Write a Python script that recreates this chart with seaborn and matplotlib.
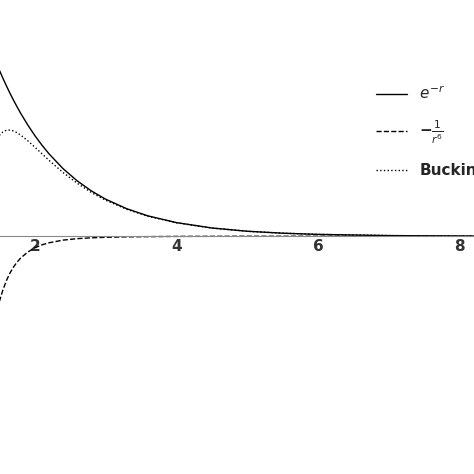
import numpy as np
import pandas as pd
import seaborn as sns
import matplotlib
matplotlib.use("Agg")
import matplotlib.pyplot as plt

# values
r = [1.5, 1.55, 1.6, 1.65, 1.7, 1.75, 1.8, 1.9, 2.0, 2.1, 2.2, 2.4, 2.6, 2.8, 3.0,
     3.3, 3.6, 4.0, 4.5, 5.0, 5.5, 6.0, 7.0, 8.0, 8.3]
exp_term = [0.2231, 0.2122, 0.2019, 0.1920, 0.1827, 0.1738, 0.1653, 0.1496, 0.1353,
            0.1225, 0.1108, 0.0907, 0.0743, 0.0608, 0.0498, 0.0369, 0.0273, 0.0183,
            0.0111, 0.0067, 0.0041, 0.0025, 0.0009, 0.0003, 0.0002]
disp_term = [-0.0878, -0.0723, -0.0596, -0.0495, -0.0414, -0.0348, -0.0294, -0.0213,
             -0.0156, -0.0116, -0.0088, -0.0052, -0.0032, -0.0021, -0.0014, -0.0008,
             -0.0005, -0.0002, -0.0001, 0.0, 0.0, 0.0, 0.0, 0.0, 0.0]
buck = [a + b for a, b in zip(exp_term, disp_term)]

df = pd.DataFrame({"r": r, "exp": exp_term, "disp": disp_term, "buck": buck})

sns.set_style("white")
fig = plt.figure(figsize=(4.74, 4.74), dpi=100)
ax = fig.add_axes([0, 0, 1, 1])

sns.lineplot(data=df, x="r", y="exp", ax=ax, color="black", lw=1.0,
             label=r"$\boldsymbol{e^{-r}}$")
sns.lineplot(data=df, x="r", y="disp", ax=ax, color="black", lw=1.0, ls="--",
             label=r"$\boldsymbol{-\frac{1}{r^6}}$")
sns.lineplot(data=df, x="r", y="buck", ax=ax, color="black", lw=1.0, ls=":",
             label="Buckingham")

ax.set_xlim(1.51, 8.2)
ax.set_ylim(-0.319, 0.317)
for s in ["top", "right", "left"]:
    ax.spines[s].set_visible(False)
ax.spines["bottom"].set_position(("data", 0))
ax.spines["bottom"].set_color("#888888")
ax.set_xticks([2, 4, 6, 8])
ax.set_xticks(np.arange(1.6, 8.2, 0.4), minor=True)
ax.tick_params(axis="x", direction="in", length=4, pad=2, labelsize=11, colors="#333333")
ax.tick_params(axis="x", which="minor", direction="in", length=2)
for t in ax.get_xticklabels():
    t.set_fontweight("bold")
ax.set_yticks([])
ax.set_xlabel("")
ax.set_ylabel("")

# legend runs off the right edge, as in the reference
leg = ax.legend(loc="upper left", bbox_to_anchor=(0.765, 0.85), frameon=False,
                prop={"weight": "bold", "size": 11}, handlelength=2.0,
                labelspacing=1.1)

fig.savefig("out.png", dpi=100)
